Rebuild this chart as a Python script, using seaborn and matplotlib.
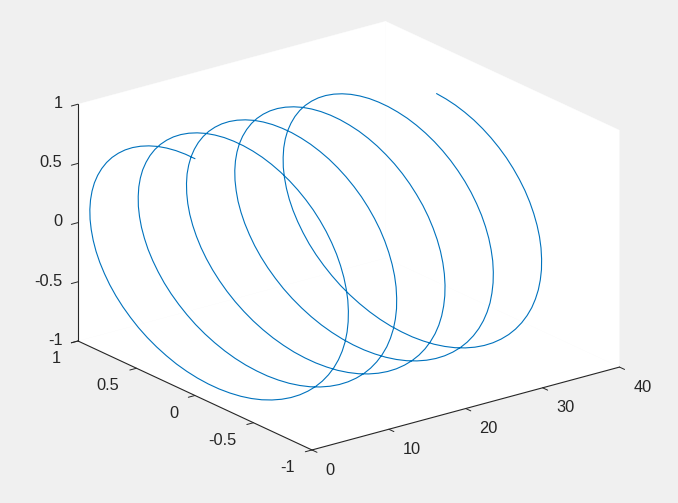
import matplotlib
matplotlib.use("Agg")
import matplotlib.pyplot as plt
import matplotlib.transforms as mtransforms
import seaborn as sns
from mpl_toolkits.mplot3d import proj3d

# --- data ---
x_values = [0, .09, .17, .26, .35, .44, .52, .61, .70, .79, .87, .96, 1.05, 1.13, 1.22, 1.31, 1.40, 1.48,
            1.57, 1.66, 1.75, 1.83, 1.92, 2.01, 2.09, 2.18, 2.27, 2.36, 2.44, 2.53, 2.62, 2.71, 2.79, 2.88, 2.97, 3.05,
            3.14, 3.23, 3.32, 3.40, 3.49, 3.58, 3.67, 3.75, 3.84, 3.93, 4.01, 4.10, 4.19, 4.28, 4.36, 4.45, 4.54, 4.63,
            4.71, 4.80, 4.89, 4.97, 5.06, 5.15, 5.24, 5.32, 5.41, 5.50, 5.59, 5.67, 5.76, 5.85, 5.93, 6.02, 6.11, 6.20,
            6.28, 6.37, 6.46, 6.54, 6.63, 6.72, 6.81, 6.89, 6.98, 7.07, 7.16, 7.24, 7.33, 7.42, 7.50, 7.59, 7.68, 7.77,
            7.85, 7.94, 8.03, 8.12, 8.20, 8.29, 8.38, 8.46, 8.55, 8.64, 8.73, 8.81, 8.90, 8.99, 9.08, 9.16, 9.25, 9.34,
            9.42, 9.51, 9.60, 9.69, 9.77, 9.86, 9.95, 10.03, 10.12, 10.21, 10.30, 10.38, 10.47, 10.56, 10.65, 10.73, 10.82, 10.91,
            11.00, 11.08, 11.17, 11.26, 11.34, 11.43, 11.52, 11.61, 11.69, 11.78, 11.87, 11.95, 12.04, 12.13, 12.22, 12.30, 12.39, 12.48,
            12.57, 12.65, 12.74, 12.83, 12.92, 13.00, 13.09, 13.18, 13.26, 13.35, 13.44, 13.53, 13.61, 13.70, 13.79, 13.88, 13.96, 14.05,
            14.14, 14.22, 14.31, 14.40, 14.49, 14.57, 14.66, 14.75, 14.84, 14.92, 15.01, 15.10, 15.18, 15.27, 15.36, 15.45, 15.53, 15.62,
            15.71, 15.80, 15.88, 15.97, 16.06, 16.14, 16.23, 16.32, 16.41, 16.49, 16.58, 16.67, 16.76, 16.84, 16.93, 17.02, 17.10, 17.19,
            17.28, 17.37, 17.45, 17.54, 17.63, 17.72, 17.80, 17.89, 17.98, 18.06, 18.15, 18.24, 18.33, 18.41, 18.50, 18.59, 18.68, 18.76,
            18.85, 18.94, 19.02, 19.11, 19.20, 19.29, 19.37, 19.46, 19.55, 19.63, 19.72, 19.81, 19.90, 19.98, 20.07, 20.16, 20.25, 20.33,
            20.42, 20.51, 20.59, 20.68, 20.77, 20.86, 20.94, 21.03, 21.12, 21.21, 21.29, 21.38, 21.47, 21.55, 21.64, 21.73, 21.82, 21.90,
            21.99, 22.08, 22.17, 22.25, 22.34, 22.43, 22.51, 22.60, 22.69, 22.78, 22.86, 22.95, 23.04, 23.13, 23.21, 23.30, 23.39, 23.47,
            23.56, 23.65, 23.74, 23.82, 23.91, 24.00, 24.09, 24.17, 24.26, 24.35, 24.43, 24.52, 24.61, 24.70, 24.78, 24.87, 24.96, 25.04,
            25.13, 25.22, 25.31, 25.39, 25.48, 25.57, 25.66, 25.74, 25.83, 25.92, 26.01, 26.09, 26.18, 26.27, 26.35, 26.44, 26.53, 26.62,
            26.70, 26.79, 26.88, 26.96, 27.05, 27.14, 27.23, 27.31, 27.40, 27.49, 27.58, 27.66, 27.75, 27.84, 27.93, 28.01, 28.10, 28.19,
            28.27, 28.36, 28.45, 28.54, 28.62, 28.71, 28.80, 28.88, 28.97, 29.06, 29.15, 29.23, 29.32, 29.41, 29.50, 29.58, 29.67, 29.76,
            29.85, 29.93, 30.02, 30.11, 30.19, 30.28, 30.37, 30.46, 30.54, 30.63, 30.72, 30.80, 30.89, 30.98, 31.07, 31.15, 31.24, 31.33,
            31.42]
y_turn = [0, .087, .174, .259, .342, .423, .5, .574, .643, .707, .766, .819, .866, .906, .94, .966, .985, .996,
          1, .996, .985, .966, .94, .906, .866, .819, .766, .707, .643, .574, .5, .423, .342, .259, .174, .087,
          0, -.087, -.174, -.259, -.342, -.423, -.5, -.574, -.643, -.707, -.766, -.819, -.866, -.906, -.94, -.966, -.985, -.996,
          -1, -.996, -.985, -.966, -.94, -.906, -.866, -.819, -.766, -.707, -.643, -.574, -.5, -.423, -.342, -.259, -.174, -.087]
z_turn = [1, .996, .985, .966, .94, .906, .866, .819, .766, .707, .643, .574, .5, .423, .342, .259, .174, .087,
          0, -.087, -.174, -.259, -.342, -.423, -.5, -.574, -.643, -.707, -.766, -.819, -.866, -.906, -.94, -.966, -.985, -.996,
          -1, -.996, -.985, -.966, -.94, -.906, -.866, -.819, -.766, -.707, -.643, -.574, -.5, -.423, -.342, -.259, -.174, -.087,
          0, .087, .174, .259, .342, .423, .5, .574, .643, .707, .766, .819, .866, .906, .94, .966, .985, .996]
y_values = y_turn * 5 + [0]
z_values = z_turn * 5 + [1]
x_ticks = [0, 10, 20, 30, 40]
y_ticks = [-1, -0.5, 0, 0.5, 1]
z_ticks = [-1, -0.5, 0, 0.5, 1]
y_labels = ["-1", "-0.5", "0", "0.5", "1"]
z_labels = ["-1", "-0.5", "0", "0.5", "1"]

sns.set_style("white")
plt.rcParams["font.family"] = ["Liberation Sans", "DejaVu Sans"]
plt.rcParams["path.simplify"] = False
line_color = sns.color_palette(["#0072BD"])[0]
DARK = "#262626"
BOX = (387.0, 387.0, 253.6)

fig = plt.figure(figsize=(6.78, 5.03), dpi=100, facecolor="#F0F0F0")
ax = fig.add_axes([0, 0, 1, 1], projection="3d", proj_type="ortho", facecolor="none")
ax.view_init(elev=20.75, azim=-127.26)
ax.set_box_aspect(BOX)
helix, = ax.plot(x_values, y_values, z_values, color=line_color, lw=0.8,
                 clip_on=False, snap=False, solid_joinstyle="round")
ax.set_xlim(0, 40, view_margin=0)
ax.set_ylim(-1, 1, view_margin=0)
ax.set_zlim(-1, 1, view_margin=0)
ax.set_xticks(x_ticks)
ax.set_yticks(y_ticks, labels=y_labels)
ax.set_zticks(z_ticks, labels=z_labels)
ax.grid(False)
for axis in (ax.xaxis, ax.yaxis, ax.zaxis):
    axis.set_pane_color((1, 1, 1, 1))
    axis.pane.set_edgecolor((1, 1, 1, 1))
    axis.pane.set_linewidth(0.3)
    axis.line.set_color(DARK)
    axis.line.set_linewidth(0.8)
    axis.set_tick_params(labelsize=11.8, labelcolor=DARK, color=DARK, width=0.7)
    axis._axinfo["tick"].update(inward_factor=0.27, outward_factor=0.0)
    axis._axinfo["tick"]["linewidth"] = {True: 0.7, False: 0.7}
ax.zaxis.set_ticks_position("upper")
ax.xaxis.set_tick_params(pad=3.0)
ax.yaxis.set_tick_params(pad=2.4)
ax.zaxis.set_tick_params(pad=-2.6)
for label in ax.get_zticklabels():
    label.set_ha("right")
    label.set_va("center")
for label in ax.get_yticklabels():
    label.set_ha("right")
    label.set_va("center")
for label in ax.get_xticklabels():
    label.set_ha("left")
    label.set_va("center")

z_nudge = mtransforms.ScaledTranslation(0.01, 0.02, fig.dpi_scale_trans)
for label in ax.get_zticklabels():
    label.set_transform(label.get_transform() + z_nudge)


def px(x, y, z):
    xp, yp, _ = proj3d.proj_transform(x, y, z, ax.get_proj())
    return ax.transData.transform((xp, yp))


# fit the box to the reference frame: left corner (78,341), right corner (619.5,366) in image pixels
fig.canvas.draw()
left = px(0, 1, -1)
right = px(40, -1, -1)
ax.set_box_aspect(BOX, zoom=541.5 / (right[0] - left[0]))
fig.canvas.draw()
left = px(0, 1, -1)
H = fig.bbox.height
dx = 78 - left[0]
dy = (H - 341) - left[1]
ax.set_position([dx / fig.bbox.width, dy / H, 1, 1])
fig.savefig("out.png", dpi=100, facecolor=fig.get_facecolor())
